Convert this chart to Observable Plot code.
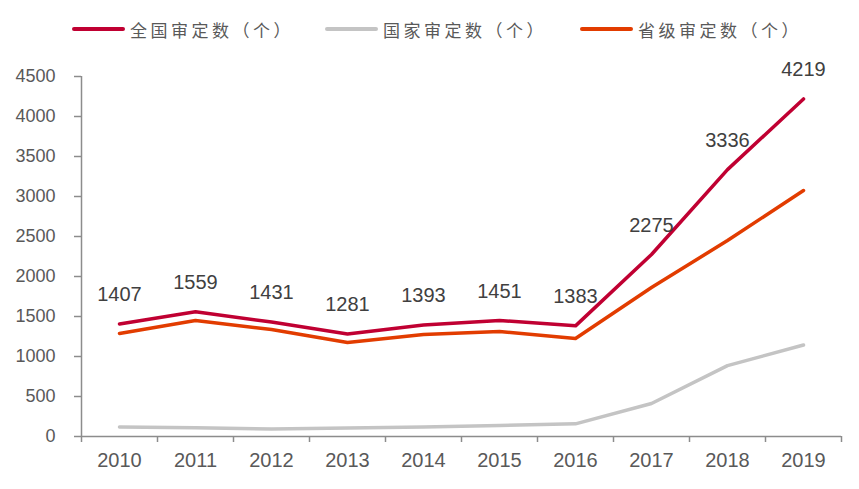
<!DOCTYPE html>
<html>
<head>
<meta charset="utf-8">
<script src="https://cdn.jsdelivr.net/npm/d3@7"></script>
<script src="https://cdn.jsdelivr.net/npm/@observablehq/plot@0.6"></script>
<style>
  html, body { margin: 0; padding: 0; background: #fff; }
  #wrap { width: 859px; height: 489px; position: relative; overflow: hidden; }
  #legend { position: relative; height: 50px; font-family: "Noto Sans CJK SC", sans-serif; font-size: 17px; color: #595959; }
  .item { position: absolute; top: 16px; display: flex; align-items: center; height: 26px; letter-spacing: 3.5px; white-space: nowrap; }
  .sw { display: inline-block; width: 53px; height: 4px; border-radius: 2px; margin-right: 5px; }
</style>
</head>
<body>
<div id="wrap">
  <div id="legend"></div>
  <div id="chart"></div>
</div>
<script>
const years = [2010, 2011, 2012, 2013, 2014, 2015, 2016, 2017, 2018, 2019];
const totalCount = [1407, 1559, 1431, 1281, 1393, 1451, 1383, 2275, 3336, 4219];
const nationalCount = [120, 109, 94, 106, 118, 139, 158, 413, 886, 1144];
const provincialCount = [1287, 1450, 1337, 1175, 1275, 1312, 1225, 1862, 2450, 3075];
const seriesNames = ["全国审定数（个）", "国家审定数（个）", "省级审定数（个）"];
const seriesColors = ["#C00032", "#C4C4C4", "#E23C00"];
const yTicks = [0, 500, 1000, 1500, 2000, 2500, 3000, 3500, 4000, 4500];

const seriesValues = [totalCount, nationalCount, provincialCount];
const data = [];
seriesNames.forEach((name, i) => years.forEach((yr, j) => data.push({series: name, year: yr, value: seriesValues[i][j]})));
const totals = years.map((yr, j) => ({year: yr, value: totalCount[j]}));

// legend
const legendLeft = [72, 325, 580];
const legend = document.getElementById("legend");
seriesNames.forEach((name, i) => {
  const d = document.createElement("div");
  d.className = "item";
  d.style.left = legendLeft[i] + "px";
  d.innerHTML = `<span class="sw" style="background:${seriesColors[i]}"></span><span>${name}</span>`;
  legend.appendChild(d);
});

const boundaries = years.map(y => y - 0.5).concat([years[years.length - 1] + 0.5]);
const axisColor = "#8C8C8C";
const font = "Liberation Sans, Arial, sans-serif";

const plot = Plot.plot({
  width: 859,
  height: 439,
  marginLeft: 81,
  marginRight: 18,
  marginTop: 26,
  marginBottom: 53,
  style: {fontFamily: font, fontSize: "18px", color: "#595959", background: "#fff"},
  x: {type: "linear", domain: [2009.5, 2019.5]},
  y: {domain: [0, 4500]},
  color: {domain: seriesNames, range: seriesColors},
  marks: [
    Plot.axisY({ticks: yTicks, tickSize: 7, tickPadding: 19, tickFormat: d => String(d), stroke: axisColor, strokeWidth: 1.5, fill: "#595959", fontSize: 18, label: null}),
    Plot.axisX({ticks: boundaries, tickSize: 6, tickFormat: () => "", stroke: axisColor, strokeWidth: 1.5, label: null}),
    Plot.axisX({ticks: years, tickSize: 0, tickPadding: 16, tickFormat: d => String(d), fill: "#595959", fontSize: 20, label: null}),
    Plot.ruleX([2009.5], {stroke: axisColor, strokeWidth: 1.5}),
    Plot.ruleY([0], {stroke: axisColor, strokeWidth: 1.5}),
    Plot.line(data, {x: "year", y: "value", z: "series", stroke: "series", strokeWidth: 3.5, strokeLinejoin: "round", strokeLinecap: "round"}),
    Plot.text(totals, {x: "year", y: "value", text: d => String(d.value), dy: -29, fill: "#404040", fontSize: 20})
  ]
});
document.getElementById("chart").appendChild(plot);
</script>
</body>
</html>
